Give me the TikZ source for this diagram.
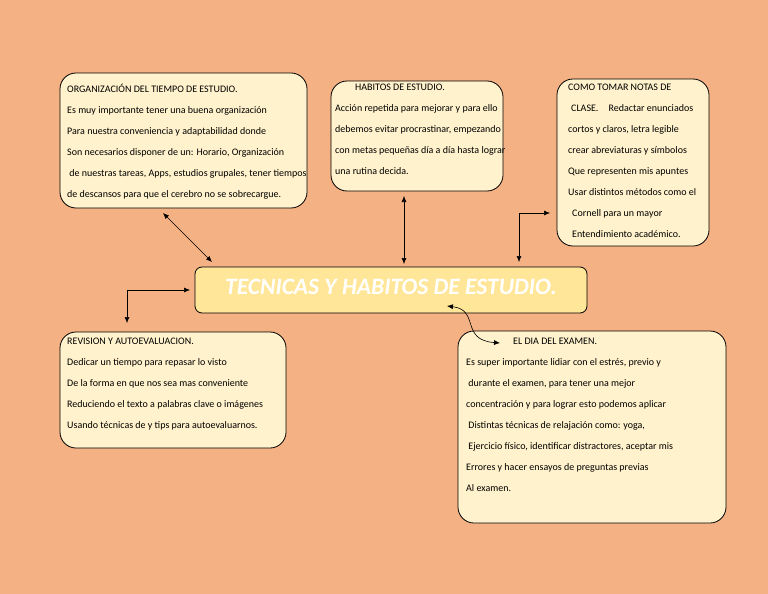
\documentclass[tikz,border=0pt]{standalone}
\usepackage{fontspec}
\setmainfont{Carlito}
\usetikzlibrary{arrows.meta}
\definecolor{bg}{HTML}{F4B183}
\definecolor{boxc}{HTML}{FFF2CC}
\definecolor{cen}{HTML}{FFE699}
\tikzset{
  card/.style={draw=black, line width=0.8pt, fill=boxc, rounded corners=16pt},
  txt/.style={anchor=north west, align=left, font=\fontsize{10}{21}\selectfont, inner sep=0pt},
  conn/.style={line width=0.6pt, {Latex[length=6pt,width=5pt]}-{Latex[length=6pt,width=5pt]}}
}
\begin{document}
\begin{tikzpicture}[x=1pt,y=-1pt]
\fill[bg] (0,0) rectangle (768,594);
\useasboundingbox (0,0) rectangle (768,594);
\draw[card] (60,73) rectangle (307,208);
\node[txt] (t1) at (67,84) {ORGANIZACIÓN DEL TIEMPO DE ESTUDIO.\\Es muy importante tener una buena organización\\Para nuestra conveniencia y adaptabilidad donde\\Son necesarios disponer de un: Horario, Organización\\\ de nuestras tareas, Apps, estudios grupales, tener tiempos\\de descansos para que el cerebro no se sobrecargue.};
\draw[card] (331,81) rectangle (503,191);
\node[txt] (t2) at (335,84) {\hspace{20pt}HABITOS DE ESTUDIO.\\Acción repetida para mejorar y para ello\\debemos evitar procrastinar, empezando\\con metas pequeñas día a día hasta lograr\\una rutina decida.};
\draw[card] (557,79) rectangle (709,246);
\node[txt] (t3) at (568,84) {COMO TOMAR NOTAS DE\\\hspace{3pt}CLASE.\quad Redactar enunciados\\cortos y claros, letra legible\\crear abreviaturas y símbolos\\Que representen mis apuntes\\Usar distintos métodos como el\\\hspace{4pt}Cornell para un mayor\\\hspace{4pt}Entendimiento académico.};
\draw[line width=0.8pt, fill=cen, rounded corners=7pt] (195,267) rectangle (587,313);
\node[font=\fontsize{23.5}{26}\selectfont\bfseries\itshape, text=white] (c) at (391,287) {TECNICAS Y HABITOS DE ESTUDIO.};
\draw[card] (60,332) rectangle (286,448);
\node[txt] (t4) at (67,338) {REVISION Y AUTOEVALUACION.\\Dedicar un tiempo para repasar lo visto\\De la forma en que nos sea mas conveniente\\Reduciendo el texto a palabras clave o imágenes\\Usando técnicas de y tips para autoevaluarnos.};
\draw[card] (458,331) rectangle (726,523);
\node[txt] (t5) at (466,338) {\hspace{47pt}EL DIA DEL EXAMEN.\\Es super importante lidiar con el estrés, previo y\\\ durante el examen, para tener una mejor\\concentración y para lograr esto podemos aplicar\\\ Distintas técnicas de relajación como: yoga,\\\ Ejercicio físico, identificar distractores, aceptar mis\\Errores y hacer ensayos de preguntas previas\\Al examen.};
\coordinate (a1) at (163,213); \coordinate (a2) at (212,262);
\draw[conn] (a1) -- (a2);
\coordinate (b1) at (404,196); \coordinate (b2) at (404,264);
\draw[conn] (b1) -- (b2);
\coordinate (r1) at (550,213); \coordinate (r2) at (519,262);
\draw[conn] (r1) -- (519,213) -- (r2);
\coordinate (l1) at (190,290); \coordinate (l2) at (127,323);
\draw[conn] (l1) -- (127,290) -- (l2);
\coordinate (d1) at (447,306); \coordinate (d2) at (500,343);
\draw[conn] (d1) .. controls (480,310) and (460,340) .. (d2);
\end{tikzpicture}
\end{document}
